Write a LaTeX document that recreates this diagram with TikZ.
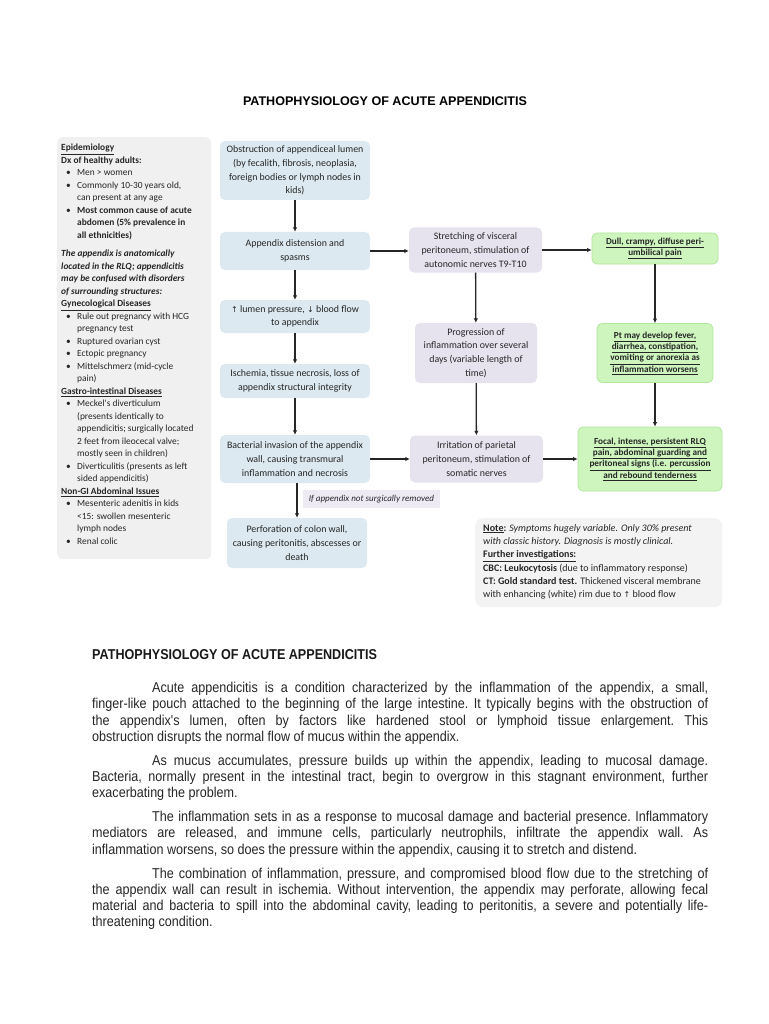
\documentclass[tikz,border=0pt]{standalone}
\usepackage{fontspec}
\usepackage{graphicx}
\usetikzlibrary{arrows.meta}
\setmainfont{Carlito}
\newfontfamily\calfont{Carlito}
\newfontfamily\narrowfont[FakeStretch=0.88]{Liberation Sans}
\newfontfamily\headfont{Liberation Sans}
\newfontfamily\symfont{DejaVu Sans}
\definecolor{bluefill}{HTML}{DCE9F0}
\definecolor{purplefill}{HTML}{E6E3EF}
\definecolor{greenfill}{HTML}{CDF5BD}
\definecolor{greenline}{HTML}{B2E89C}
\definecolor{panelfill}{HTML}{F0F0F0}
\definecolor{notefill}{HTML}{F3F3F3}
\definecolor{labelfill}{HTML}{EEEAF4}
\definecolor{textgray}{HTML}{262626}
\newcommand{\bul}[1]{\hspace*{5pt}\makebox[11pt][l]{•}#1}
\newcommand{\cont}[1]{\hspace*{16pt}#1}
\newcommand{\uparr}{{\symfont\footnotesize ↑}}
\newcommand{\downarr}{{\symfont\footnotesize ↓}}
\tikzset{
  flow/.style={rounded corners=5pt, align=center, inner sep=0pt, text=textgray,
    font=\calfont\fontsize{9.9}{13.6}\selectfont},
  bluebox/.style={flow, fill=bluefill},
  purplebox/.style={flow, fill=purplefill},
  greenbox/.style={flow, fill=greenfill, draw=greenline, line width=0.8pt,
    font=\calfont\bfseries\fontsize{9.2}{11.4}\selectfont},
  arr/.style={-{Latex[length=4.5pt,width=4.5pt]}, line width=1.3pt, black!85},
}
\begin{document}
\begin{tikzpicture}[x=1pt,y=-1pt]
\fill[white] (0,0) rectangle (768,1024);
\useasboundingbox (0,0) rectangle (768,1024);

% title
\node (title) at (385,101) {\resizebox{284pt}{!}{\headfont\bfseries PATHOPHYSIOLOGY OF ACUTE APPENDICITIS}};

% left panel
\node[fill=panelfill, rounded corners=6pt, anchor=north west, minimum width=154pt, minimum height=422pt, inner sep=0pt] (panel) at (57,137) {};
\node[anchor=north west, inner sep=0pt, align=left, text=textgray,
  font=\calfont\fontsize{9.4}{12.5}\selectfont] (paneltext) at (61,144) {%
\textbf{\underline{Epidemiology}}\\
\textbf{Dx of healthy adults:}\\
\bul{Men > women}\\
\bul{Commonly 10-30 years old,}\\
\cont{can present at any age}\\
\bul{\textbf{Most common cause of acute}}\\
\cont{\textbf{abdomen (5\% prevalence in}}\\
\cont{\textbf{all ethnicities)}}\\[6pt]
\textbf{\textit{The appendix is anatomically}}\\
\textbf{\textit{located in the RLQ; appendicitis}}\\
\textbf{\textit{may be confused with disorders}}\\
\textbf{\textit{of surrounding structures:}}\\
\textbf{\underline{Gynecological Diseases}}\\
\bul{Rule out pregnancy with HCG}\\
\cont{pregnancy test}\\
\bul{Ruptured ovarian cyst}\\
\bul{Ectopic pregnancy}\\
\bul{Mittelschmerz (mid-cycle}\\
\cont{pain)}\\
\textbf{\underline{Gastro-intestinal Diseases}}\\
\bul{Meckel's diverticulum}\\
\cont{(presents identically to}\\
\cont{appendicitis; surgically located}\\
\cont{2 feet from ileocecal valve;}\\
\cont{mostly seen in children)}\\
\bul{Diverticulitis (presents as left}\\
\cont{sided appendicitis)}\\
\textbf{\underline{Non-GI Abdominal Issues}}\\
\bul{Mesenteric adenitis in kids}\\
\cont{<15: swollen mesenteric}\\
\cont{lymph nodes}\\
\bul{Renal colic}};

% main column
\node[bluebox, minimum width=150pt, minimum height=59pt] (b1) at (295,170.5)
  {Obstruction of appendiceal lumen\\(by fecalith, fibrosis, neoplasia,\\foreign bodies or lymph nodes in\\kids)};
\node[bluebox, minimum width=150pt, minimum height=38pt] (b2) at (295,251)
  {Appendix distension and\\spasms};
\node[bluebox, minimum width=150pt, minimum height=33pt] (b3) at (295,316.5)
  {\uparr\ lumen pressure, \downarr\ blood flow\\to appendix};
\node[bluebox, minimum width=150pt, minimum height=34pt] (b4) at (295,381)
  {Ischemia, tissue necrosis, loss of\\appendix structural integrity};
\node[bluebox, minimum width=150pt, minimum height=48pt] (b5) at (295,459)
  {Bacterial invasion of the appendix\\wall, causing transmural\\inflammation and necrosis};
\node[bluebox, minimum width=140pt, minimum height=50pt] (b6) at (297,543)
  {Perforation of colon wall,\\causing peritonitis, abscesses or\\death};
\node[fill=labelfill, inner sep=0pt, minimum width=137pt, minimum height=18pt,
  font=\calfont\itshape\fontsize{9}{11}\selectfont, text=textgray] (lbl) at (371.5,499)
  {If appendix not surgically removed};

% middle column
\node[purplebox, minimum width=133pt, minimum height=45pt] (p1) at (475.5,250)
  {Stretching of visceral\\peritoneum, stimulation of\\autonomic nerves T9-T10};
\node[purplebox, minimum width=122pt, minimum height=60pt] (p2) at (476,353)
  {Progression of\\inflammation over several\\days (variable length of\\time)};
\node[purplebox, minimum width=133pt, minimum height=47pt] (p3) at (476.5,459)
  {Irritation of parietal\\peritoneum, stimulation of\\somatic nerves};

% right column
\node[greenbox, minimum width=126pt, minimum height=31pt] (g1) at (655,248.5)
  {\underline{Dull, crampy, diffuse peri-}\\\underline{umbilical pain}};
\node[greenbox, minimum width=116pt, minimum height=59pt] (g2) at (655,353)
  {\underline{Pt may develop fever,}\\\underline{diarrhea, constipation,}\\\underline{vomiting or anorexia as}\\\underline{inflammation worsens}};
\node[greenbox, minimum width=144pt, minimum height=64pt] (g3) at (650,459)
  {\underline{Focal, intense, persistent RLQ}\\\underline{pain, abdominal guarding and}\\\underline{peritoneal signs (i.e. percussion}\\\underline{and rebound tenderness}};

% note box
\node[fill=notefill, rounded corners=8pt, anchor=north west, minimum width=247pt, minimum height=89pt, inner sep=0pt] (note) at (475,518) {};
\node[anchor=north west, inner sep=0pt, align=left, text=textgray,
  font=\calfont\fontsize{10}{13.3}\selectfont] (notetext) at (483,524) {%
\textbf{\underline{Note}:} \textit{Symptoms hugely variable. Only 30\% present}\\
\textit{with classic history. Diagnosis is mostly clinical.}\\
\textbf{\underline{Further investigations:}}\\
\textbf{CBC: Leukocytosis} (due to inflammatory response)\\
\textbf{CT: Gold standard test.} Thickened visceral membrane\\
with enhancing (white) rim due to \uparr\ blood flow};

% arrows
\draw[arr] (b1) -- (b2);
\draw[arr] (b2) -- (b3);
\draw[arr] (b3) -- (b4);
\draw[arr] (b4) -- (b5);
\draw[arr] (b6.north |- b5.south) -- (b6.north);
\draw[arr] (b2.east) -- (b2.east -| p1.west);
\draw[arr] (p1.east) -- (p1.east -| g1.west);
\draw[arr] (p1) -- (p2);
\draw[arr] (p2) -- (p3);
\draw[arr] (b5.east) -- (b5.east -| p3.west);
\draw[arr] (p3.east) -- (p3.east -| g3.west);
\draw[arr] (g1) -- (g2);
\draw[arr] (g2.south) -- (g2.south |- g3.north);

% text section
\node[anchor=base west, inner sep=0pt, text=black!90] (head2) at (92,659)
  {\narrowfont\bfseries\fontsize{14.3}{16.2}\selectfont PATHOPHYSIOLOGY OF ACUTE APPENDICITIS};
\node[anchor=north west, inner sep=0pt, text width=616pt, align=justify, text=black!85,
  font=\narrowfont\fontsize{14.3}{16.3}\selectfont] (body) at (92,682) {%
\frenchspacing\tolerance=10000\emergencystretch=20pt
\noindent\hspace*{60pt}Acute appendicitis is a condition characterized by the inflammation of the appendix, a small,\linebreak
finger-like pouch attached to the beginning of the large intestine. It typically begins with the obstruction of\linebreak
the appendix's lumen, often by factors like hardened stool or lymphoid tissue enlargement. This\linebreak
obstruction disrupts the normal flow of mucus within the appendix.\par
\vspace{7.5pt}
\noindent\hspace*{60pt}As mucus accumulates, pressure builds up within the appendix, leading to mucosal damage.\linebreak
Bacteria, normally present in the intestinal tract, begin to overgrow in this stagnant environment, further\linebreak
exacerbating the problem.\par
\vspace{7.5pt}
\noindent\hspace*{60pt}The inflammation sets in as a response to mucosal damage and bacterial presence. Inflammatory\linebreak
mediators are released, and immune cells, particularly neutrophils, infiltrate the appendix wall. As\linebreak
inflammation worsens, so does the pressure within the appendix, causing it to stretch and distend.\par
\vspace{7.5pt}
\noindent\hspace*{60pt}The combination of inflammation, pressure, and compromised blood flow due to the stretching of\linebreak
the appendix wall can result in ischemia. Without intervention, the appendix may perforate, allowing fecal\linebreak
material and bacteria to spill into the abdominal cavity, leading to peritonitis, a severe and potentially life-\linebreak
threatening condition.\par};
\end{tikzpicture}
\end{document}
